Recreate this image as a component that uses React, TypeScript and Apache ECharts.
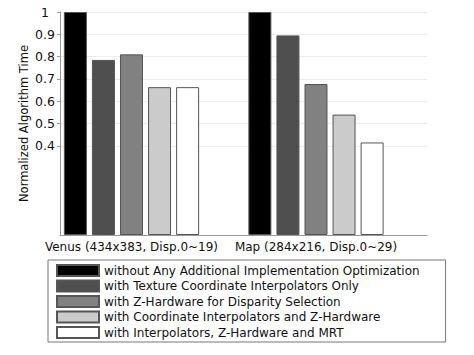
import React, { useEffect, useRef } from "react";
import * as echarts from "echarts";

const categories = ["Venus (434x383, Disp.0~19)", "Map (284x216, Disp.0~29)"];
const seriesNames = [
  "without Any Additional Implementation Optimization",
  "with Texture Coordinate Interpolators Only",
  "with Z-Hardware for Disparity Selection",
  "with Coordinate Interpolators and Z-Hardware",
  "with Interpolators, Z-Hardware and MRT",
];
const venusValues = [1.0, 0.785, 0.81, 0.663, 0.663];
const mapValues = [1.0, 0.895, 0.677, 0.54, 0.415];
const colors = ["#000000", "#4f4f4f", "#818181", "#cbcbcb", "#ffffff"];
const yTicks = [0.4, 0.5, 0.6, 0.7, 0.8, 0.9, 1];

export default function App() {
  const ref = useRef<HTMLDivElement>(null);
  useEffect(() => {
    if (!ref.current) return;
    const chart = echarts.init(ref.current, undefined, { renderer: "svg" });
    const font = "DejaVu Sans, Verdana, sans-serif";
    chart.setOption({
      animation: false,
      textStyle: { fontFamily: font },
      grid: { left: 60, right: 47, top: 12, bottom: 120 },
      legend: {
        orient: "vertical",
        left: 48,
        top: 260,
        padding: [4, 26, 3, 8],
        itemWidth: 42,
        itemHeight: 11,
        itemGap: 2.5,
        borderColor: "#777",
        borderWidth: 1,
        icon: "rect",
        selectedMode: false,
        textStyle: { fontSize: 12, lineHeight: 11, color: "#111", fontFamily: font },
        data: seriesNames,
      },
      xAxis: {
        type: "value",
        min: -0.3875,
        max: 1.6016,
        axisLine: { show: true, onZero: false, lineStyle: { color: "#999" } },
        axisTick: { show: false },
        splitLine: { show: false },
        axisLabel: {
          customValues: [0, 1],
          formatter: (v: number) => categories[Math.round(v)] ?? "",
          fontSize: 12,
          color: "#111",
          margin: 6,
        },
      },
      yAxis: {
        type: "value",
        min: 0,
        max: 1,
        name: "Normalized Algorithm Time",
        nameLocation: "middle",
        nameGap: 30,
        nameMoveOverlap: false,
        nameTextStyle: { fontSize: 11.5, color: "#111" },
        axisLine: { show: true, onZero: false, lineStyle: { color: "#999" } },
        axisTick: { show: true, customValues: yTicks, length: 3, lineStyle: { color: "#999" } },
        axisLabel: {
          customValues: yTicks,
          align: "center",
          margin: 15,
          fontSize: 12.5,
          color: "#111",
          formatter: (v: number) => String(Math.round(v * 10) / 10),
        },
        splitLine: { show: true, lineStyle: { color: "#ececec", width: 1 } },
      },
      series: seriesNames.map((name, i) => ({
        name,
        type: "bar",
        barWidth: 23,
        barGap: "22%",
        itemStyle: { color: colors[i], borderColor: "#555", borderWidth: 1 },
        data: [
          [0, venusValues[i]],
          [1, mapValues[i]],
        ],
      })),
    });
    return () => chart.dispose();
  }, []);
  return <div ref={ref} style={{ width: 474, height: 355, marginLeft: -8, marginTop: -8 }} />;
}
